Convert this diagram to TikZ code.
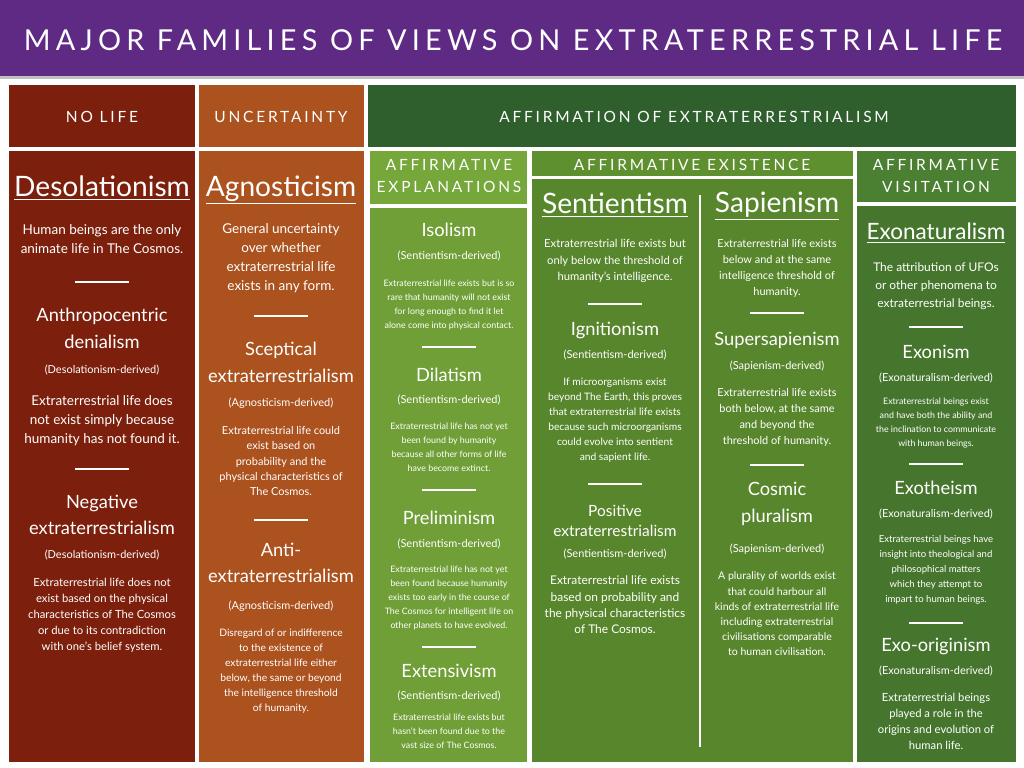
\documentclass[tikz,border=0pt]{standalone}
\usepackage{fontspec}
\setmainfont{Lato}
\newfontfamily\spacedfont[LetterSpace=18]{Lato}
\usetikzlibrary{positioning}
\definecolor{titlepurple}{HTML}{5E2A84}
\definecolor{nolife}{HTML}{7C200D}
\definecolor{uncert}{HTML}{AB521F}
\definecolor{affirm}{HTML}{2F5F2D}
\definecolor{explan}{HTML}{76A73A}
\definecolor{exist}{HTML}{5F902F}
\definecolor{visit}{HTML}{4B7F31}

\tikzset{
  panel/.style={fill=#1, draw=none},
  txt/.style={text=white, align=center, inner sep=0pt},
  hdr/.style={txt, font=\spacedfont\fontsize{11}{15}\selectfont},
  big/.style={txt, font=\fontsize{20}{22}\selectfont},
  mid/.style={txt, font=\fontsize{13}{19}\selectfont},
  der/.style={txt, font=\fontsize{7.8}{10}\selectfont},
  body/.style={txt, font=\fontsize{9.6}{13.5}\selectfont},
  small/.style={txt, font=\fontsize{6.3}{10}\selectfont},
  sep/.style={white, line width=1pt}
}
\newcommand{\sepline}[2]{\draw[sep] (#1-27,#2) -- (#1+27,#2);}

\begin{document}
\begin{tikzpicture}[x=0.025cm, y=-0.025cm]
\useasboundingbox (0,0) rectangle (1024,768);
\fill[white] (0,0) rectangle (1024,768);
% title bar
\fill[black!25] (0,75) rectangle (1024,79);
\fill[titlepurple] (0,0) rectangle (1024,76);
\node[txt, font=\spacedfont\fontsize{20.5}{22}\selectfont] (title) at (513,40) {MAJOR FAMILIES OF VIEWS ON EXTRATERRESTRIAL LIFE};

% top headers
\fill[panel=nolife] (9,85) rectangle (195,147);
\fill[panel=uncert] (199,85) rectangle (364,147);
\fill[panel=affirm] (368,85) rectangle (1016,147);
\node[hdr] (hnolife) at (102,117) {NO LIFE};
\node[hdr] (huncert) at (281,117) {UNCERTAINTY};
\node[hdr] (haffirm) at (694,117) {AFFIRMATION OF EXTRATERRESTRIALISM};

% column bodies
\fill[panel=nolife] (9,151) rectangle (195,762);
\fill[panel=uncert] (199,151) rectangle (364,762);
\fill[panel=explan] (370,151) rectangle (527,204);
\fill[panel=explan!95!black] (370,208) rectangle (527,762);
\fill[panel=exist] (532,151) rectangle (853,176);
\fill[panel=exist!93!black] (532,179) rectangle (853,762);
\fill[panel=visit] (857,151) rectangle (1016,202);
\fill[panel=visit!93!black] (857,206) rectangle (1016,762);
\draw[sep] (700,195) -- (700,747);

% no life
\node[big] (desol) at (102,188) {\underline{Desolationism}};
\node[body] (desolb) at (102,239) {Human beings are the only\\animate life in The Cosmos.};
\sepline{102}{282}
\node[mid] (anthro) at (102,328) {Anthropocentric\\denialism};
\node[der] (anthrod) at (102,370) {(Desolationism-derived)};
\node[body] (anthrob) at (102,421) {Extraterrestrial life does\\not exist simply because\\humanity has not found it.};
\sepline{102}{469}
\node[mid] (negat) at (102,515) {Negative\\extraterrestrialism};
\node[der] (negatd) at (102,555) {(Desolationism-derived)};
\node[txt, font=\fontsize{8}{11.4}\selectfont] (negatb) at (102,615) {Extraterrestrial life does not\\exist based on the physical\\characteristics of The Cosmos\\or due to its contradiction\\with one's belief system.};

% uncertainty
\node[big] (agnos) at (281,190) {\underline{Agnosticism}};
\node[body] (agnosb) at (281,258) {General uncertainty\\over whether\\extraterrestrial life\\exists in any form.};
\sepline{281}{316}
\node[mid] (scept) at (281,362) {Sceptical\\extraterrestrialism};
\node[der] (sceptd) at (281,403) {(Agnosticism-derived)};
\node[txt, font=\fontsize{7.8}{10.7}\selectfont] (sceptb) at (281,461) {Extraterrestrial life could\\exist based on\\probability and the\\physical characteristics of\\The Cosmos.};
\sepline{281}{520}
\node[mid] (anti) at (281,563) {Anti-\\extraterrestrialism};
\node[der] (antid) at (281,606) {(Agnosticism-derived)};
\node[txt, font=\fontsize{7.3}{10.7}\selectfont] (antib) at (281,671) {Disregard of or indifference\\to the existence of\\extraterrestrial life either\\below, the same or beyond\\the intelligence threshold\\of humanity.};

% affirmative explanations
\node[hdr] (hexplan) at (449,176) {AFFIRMATIVE\\EXPLANATIONS};
\node[mid] (isol) at (449,230) {Isolism};
\node[der] (isold) at (449,256) {(Sentientism-derived)};
\node[small] (isolb) at (449,305) {Extraterrestrial life exists but is so\\rare that humanity will not exist\\for long enough to find it let\\alone come into physical contact.};
\sepline{449}{347}
\node[mid] (dilat) at (449,375) {Dilatism};
\node[der] (dilatd) at (449,400) {(Sentientism-derived)};
\node[small] (dilatb) at (449,447) {Extraterrestrial life has not yet\\been found by humanity\\because all other forms of life\\have become extinct.};
\sepline{449}{490}
\node[mid] (prelim) at (449,518) {Preliminism};
\node[der] (prelimd) at (449,544) {(Sentientism-derived)};
\node[small] (prelimb) at (449,598) {Extraterrestrial life has not yet\\been found because humanity\\exists too early in the course of\\The Cosmos for intelligent life on\\other planets to have evolved.};
\sepline{449}{647}
\node[mid] (extens) at (449,671) {Extensivism};
\node[der] (extensd) at (449,696) {(Sentientism-derived)};
\node[small] (extensb) at (449,731) {Extraterrestrial life exists but\\hasn't been found due to the\\vast size of The Cosmos.};

% affirmative existence
\node[hdr] (hexist) at (692,165) {AFFIRMATIVE EXISTENCE};
\node[big] (sentient) at (615,205) {\underline{Sentientism}};
\node[txt, font=\fontsize{8}{12}\selectfont] (sentientb) at (615,261) {Extraterrestrial life exists but\\only below the threshold of\\humanity's intelligence.};
\sepline{615}{304}
\node[mid] (ignit) at (615,330) {Ignitionism};
\node[der] (ignitd) at (615,355) {(Sentientism-derived)};
\node[txt, font=\fontsize{7.3}{10.7}\selectfont] (ignitb) at (615,420) {If microorganisms exist\\beyond The Earth, this proves\\that extraterrestrial life exists\\because such microorganisms\\could evolve into sentient\\and sapient life.};
\sepline{615}{484}
\node[txt, font=\fontsize{11}{14.5}\selectfont] (posit) at (615,521) {Positive\\extraterrestrialism};
\node[der] (positd) at (615,554) {(Sentientism-derived)};
\node[txt, font=\fontsize{8.5}{11.6}\selectfont] (positb) at (615,605) {Extraterrestrial life exists\\based on probability and\\the physical characteristics\\of The Cosmos.};
\node[big] (sapien) at (777,206) {\underline{Sapienism}};
\node[txt, font=\fontsize{7.8}{11.4}\selectfont] (sapienb) at (777,268) {Extraterrestrial life exists\\below and at the same\\intelligence threshold of\\humanity.};
\sepline{777}{313}
\node[mid] (super) at (777,340) {Supersapienism};
\node[der] (superd) at (777,366) {(Sapienism-derived)};
\node[txt, font=\fontsize{7.8}{11.4}\selectfont] (superb) at (777,417) {Extraterrestrial life exists\\both below, at the same\\and beyond the\\threshold of humanity.};
\sepline{777}{465}
\node[mid] (cosmic) at (777,504) {Cosmic\\pluralism};
\node[der] (cosmicd) at (777,549) {(Sapienism-derived)};
\node[txt, font=\fontsize{7.5}{10.8}\selectfont] (cosmicb) at (777,614) {A plurality of worlds exist\\that could harbour all\\kinds of extraterrestrial life\\including extraterrestrial\\civilisations comparable\\to human civilisation.};

% affirmative visitation
\node[hdr] (hvisit) at (936,176) {AFFIRMATIVE\\VISITATION};
\node[txt, font=\fontsize{16}{18}\selectfont] (exonat) at (936,233) {\underline{Exonaturalism}};
\node[txt, font=\fontsize{8.5}{12.8}\selectfont] (exonatb) at (936,286) {The attribution of UFOs\\or other phenomena to\\extraterrestrial beings.};
\sepline{936}{327}
\node[mid] (exon) at (936,352) {Exonism};
\node[der] (exond) at (936,378) {(Exonaturalism-derived)};
\node[small] (exonb) at (936,423) {Extraterrestrial beings exist\\and have both the ability and\\the inclination to communicate\\with human beings.};
\sepline{936}{464}
\node[mid] (exoth) at (936,488) {Exotheism};
\node[der] (exothd) at (936,514) {(Exonaturalism-derived)};
\node[txt, font=\fontsize{6.8}{10.7}\selectfont] (exothb) at (936,570) {Extraterrestrial beings have\\insight into theological and\\philosophical matters\\which they attempt to\\impart to human beings.};
\sepline{936}{623}
\node[mid] (exoor) at (936,646) {Exo-originism};
\node[der] (exoord) at (936,671) {(Exonaturalism-derived)};
\node[txt, font=\fontsize{8}{11.4}\selectfont] (exoorb) at (936,721) {Extraterrestrial beings\\played a role in the\\origins and evolution of\\human life.};
\end{tikzpicture}
\end{document}
